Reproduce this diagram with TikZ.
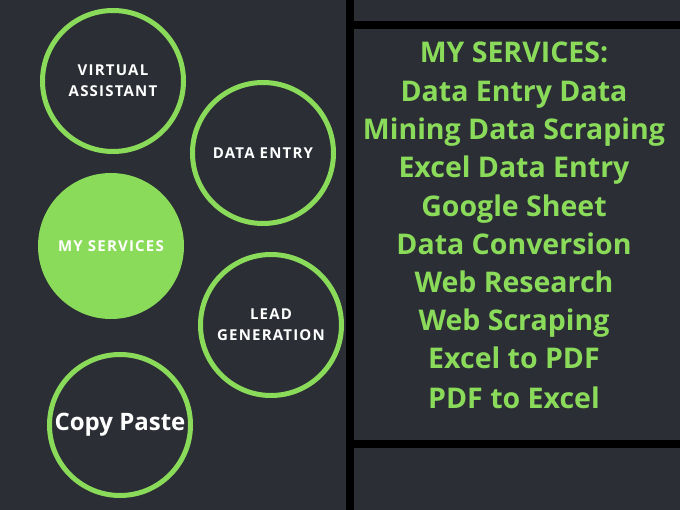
\documentclass[tikz,border=0pt]{standalone}
\usepackage{fontspec}
\setmainfont{Open Sans}
\newfontfamily\capsf[LetterSpace=8]{Open Sans}
\definecolor{bg}{HTML}{2B2E35}
\definecolor{gr}{HTML}{8BDB5B}
\begin{document}
\begin{tikzpicture}[x=1pt,y=-1pt,
  ring/.style={circle,draw=gr,line width=5pt,minimum size=141pt,inner sep=0pt,text=white,font=\capsf\bfseries\fontsize{15}{21}\selectfont,align=center},
  svc/.style={text=gr,font=\bfseries\fontsize{28.5}{32}\selectfont,text height=20pt,text depth=6pt,inner sep=0pt,anchor=center}]
\fill[black] (0,0) rectangle (680,510);
\fill[bg] (0,0) rectangle (346,510);
\fill[bg] (354,0) rectangle (680,21);
\fill[bg] (354,29) rectangle (680,440);
\fill[bg] (354,448) rectangle (680,510);
\useasboundingbox (0,0) rectangle (680,510);
\node[ring] (va) at (113,81) {VIRTUAL\\ASSISTANT};
\node[ring] (de) at (263,153) {DATA ENTRY};
\node[ring,fill=gr] (ms) at (111,246) {MY SERVICES};
\node[ring] (lg) at (271,325) {LEAD\\GENERATION};
\node[ring,font=\bfseries\fontsize{24}{28}\selectfont] (cp) at (120,425) {Copy Paste};
\foreach \t/\y [count=\i] in {MY SERVICES:/56, Data Entry Data/95, Mining Data Scraping/133, Excel Data Entry/171, Google Sheet/210, Data Conversion/248, Web Research/286, Web Scraping/324, Excel to PDF/362, PDF to Excel/401}
  \node[svc] (s\i) at (514,\y) {\t};
\end{tikzpicture}
\end{document}
